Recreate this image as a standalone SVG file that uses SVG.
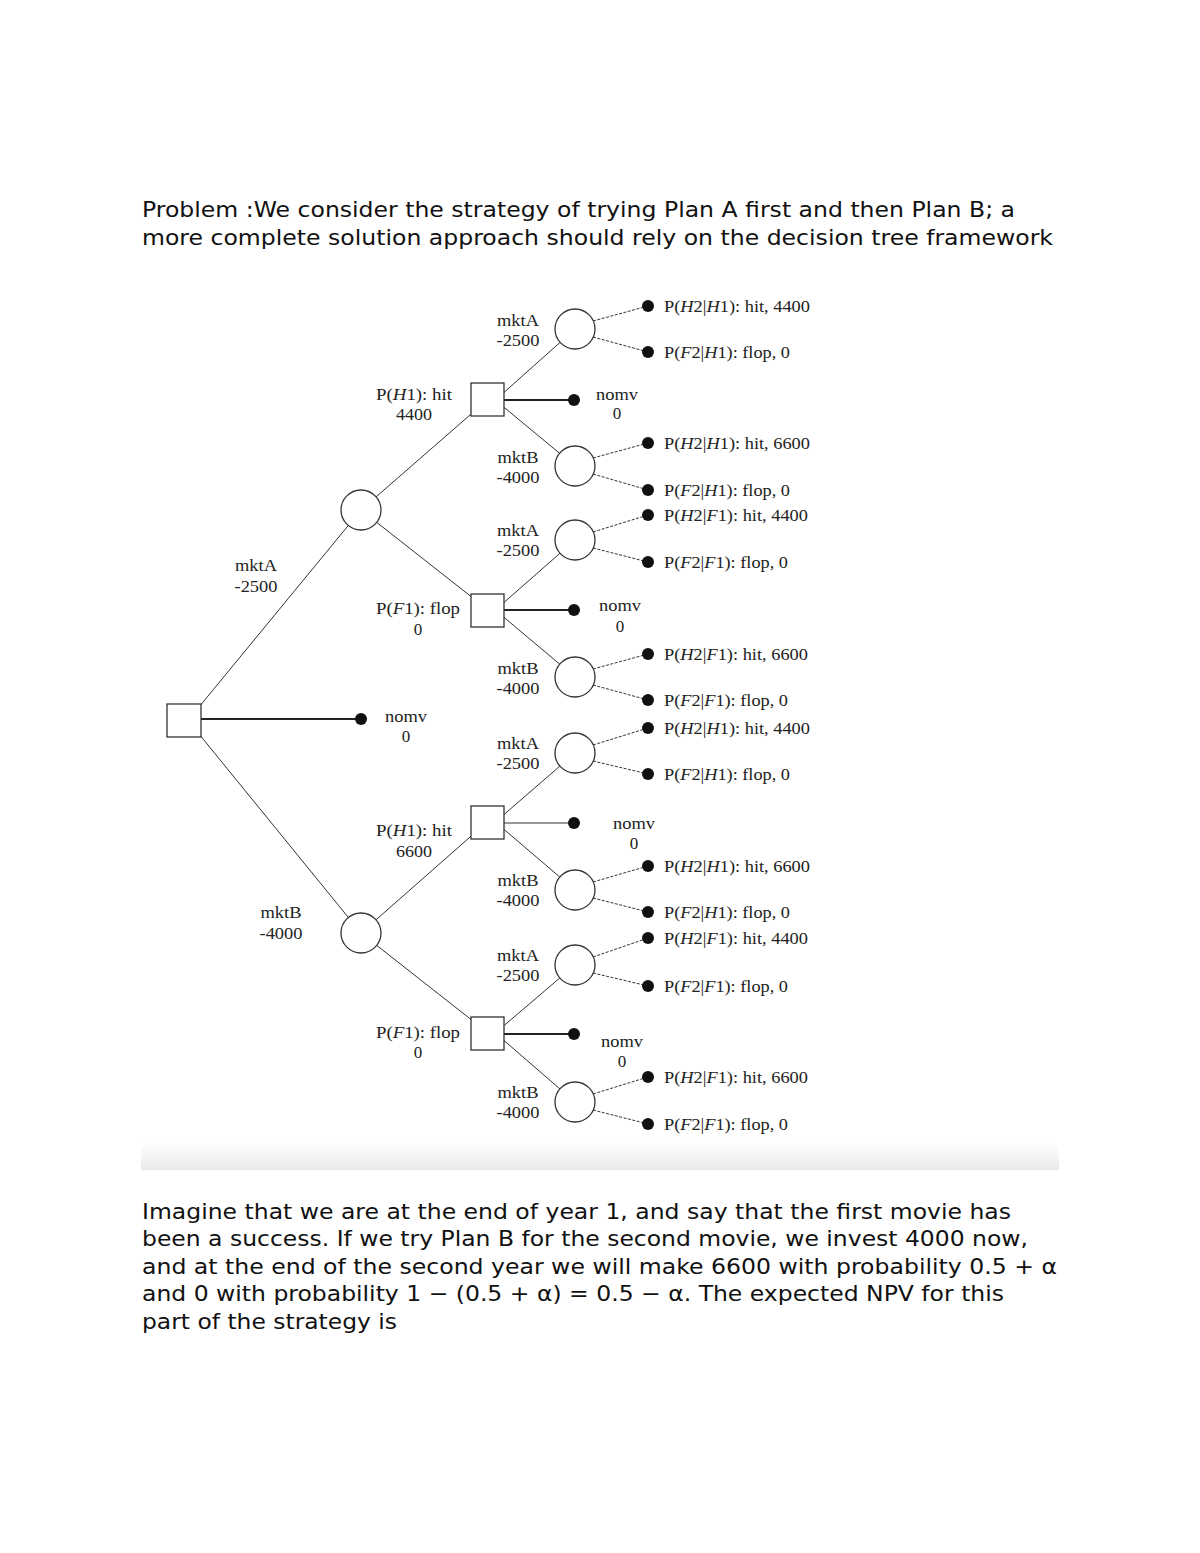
<svg xmlns="http://www.w3.org/2000/svg" width="1200" height="1553" viewBox="0 0 1200 1553">
<defs>
<linearGradient id="fade" x1="0" y1="0" x2="0" y2="1">
<stop offset="0" stop-color="#ffffff"/>
<stop offset="1" stop-color="#e9e9e9"/>
</linearGradient>
<style>
.body{font-family:"DejaVu Sans","Liberation Sans",sans-serif;font-size:22px;fill:#111}
.t{font-family:"Liberation Serif","Times New Roman",serif;font-size:17px;fill:#222}
.c{text-anchor:middle}
.i{font-style:italic}
.ln{stroke:#333;stroke-width:1;fill:none}
.hl{stroke:#222;stroke-width:1.8;fill:none}
.dl{stroke:#333;stroke-width:1;stroke-dasharray:3 1.5;fill:none}
.sq{fill:#fff;stroke:#333;stroke-width:1.3}
.ch{fill:#fff;stroke:#333;stroke-width:1.3}
.dot{fill:#111}
</style>
</defs>
<rect width="1200" height="1553" fill="#fff"/>

<g id="header">
<text class="body" x="142" y="217" textLength="873" lengthAdjust="spacingAndGlyphs">Problem :We consider the strategy of trying Plan A first and then Plan B; a</text>
<text class="body" x="142" y="245" textLength="911" lengthAdjust="spacingAndGlyphs">more complete solution approach should rely on the decision tree framework</text>
</g>

<rect x="141" y="1143" width="918" height="27" fill="url(#fade)"/>

<g id="connectors">
<line class="ln" x1="199" y1="707" x2="361" y2="510"/>
<line class="ln" x1="199" y1="734" x2="361" y2="933"/>
<line class="hl" x1="201" y1="719" x2="361" y2="719"/>
<line class="ln" x1="361" y1="510" x2="478" y2="408"/>
<line class="ln" x1="361" y1="510" x2="478" y2="602"/>
<line class="ln" x1="361" y1="933" x2="478" y2="830"/>
<line class="ln" x1="361" y1="933" x2="478" y2="1025"/>
<line class="ln" x1="500" y1="396" x2="575" y2="329"/>
<line class="hl" x1="504" y1="400" x2="574" y2="400"/>
<line class="ln" x1="500" y1="404" x2="575" y2="466"/>
<line class="ln" x1="500" y1="606" x2="575" y2="540"/>
<line class="hl" x1="504" y1="610" x2="574" y2="610"/>
<line class="ln" x1="500" y1="614" x2="575" y2="677"/>
<line class="ln" x1="500" y1="818" x2="575" y2="753"/>
<line class="ln" x1="504" y1="823" x2="574" y2="823"/>
<line class="ln" x1="500" y1="826" x2="575" y2="890"/>
<line class="ln" x1="500" y1="1029" x2="575" y2="965"/>
<line class="hl" x1="504" y1="1034" x2="574" y2="1034"/>
<line class="ln" x1="500" y1="1037" x2="575" y2="1102"/>
<path class="dl" d="M593,321 L648,306 M593,337 L648,352"/>
<path class="dl" d="M593,458 L648,443 M593,474 L648,490"/>
<path class="dl" d="M593,532 L648,515 M593,548 L648,562"/>
<path class="dl" d="M593,669 L648,654 M593,685 L648,700"/>
<path class="dl" d="M593,745 L648,728 M593,761 L648,774"/>
<path class="dl" d="M593,882 L648,866 M593,898 L648,912"/>
<path class="dl" d="M593,957 L648,938 M593,973 L648,986"/>
<path class="dl" d="M593,1094 L648,1077 M593,1110 L648,1124"/>
</g>

<g id="root"><rect class="sq" x="167" y="704" width="34" height="33"/></g>
<g id="root-nomv"><circle class="dot" cx="361" cy="719" r="6"/>
<text class="t c" x="406" y="722" textLength="42" lengthAdjust="spacingAndGlyphs">nomv</text><text class="t c" x="406" y="742">0</text></g>
<g id="root-labels">
<text class="t c" x="256" y="571" textLength="42" lengthAdjust="spacingAndGlyphs">mktA</text><text class="t c" x="256" y="592" textLength="43" lengthAdjust="spacingAndGlyphs">-2500</text>
<text class="t c" x="281" y="918" textLength="41" lengthAdjust="spacingAndGlyphs">mktB</text><text class="t c" x="281" y="939" textLength="43" lengthAdjust="spacingAndGlyphs">-4000</text>
</g>

<g id="chanceA"><circle class="ch" cx="361" cy="510" r="20"/></g>
<g id="chanceB"><circle class="ch" cx="361" cy="933" r="20"/></g>

<g id="decA-hit"><rect class="sq" x="471" y="383" width="33" height="33"/>
<text class="t c" x="414" y="400" textLength="76" lengthAdjust="spacingAndGlyphs">P(<tspan class="i">H</tspan>1): hit</text><text class="t c" x="414" y="420" textLength="36" lengthAdjust="spacingAndGlyphs">4400</text></g>
<g id="decA-flop"><rect class="sq" x="471" y="594" width="33" height="33"/>
<text class="t c" x="418" y="614" textLength="84" lengthAdjust="spacingAndGlyphs">P(<tspan class="i">F</tspan>1): flop</text><text class="t c" x="418" y="635">0</text></g>
<g id="decB-hit"><rect class="sq" x="471" y="806" width="33" height="33"/>
<text class="t c" x="414" y="836" textLength="76" lengthAdjust="spacingAndGlyphs">P(<tspan class="i">H</tspan>1): hit</text><text class="t c" x="414" y="857" textLength="36" lengthAdjust="spacingAndGlyphs">6600</text></g>
<g id="decB-flop"><rect class="sq" x="471" y="1017" width="33" height="33"/>
<text class="t c" x="418" y="1038" textLength="84" lengthAdjust="spacingAndGlyphs">P(<tspan class="i">F</tspan>1): flop</text><text class="t c" x="418" y="1058">0</text></g>

<g id="nomv1"><circle class="dot" cx="574" cy="400" r="6"/><text class="t c" x="617" y="400" textLength="42" lengthAdjust="spacingAndGlyphs">nomv</text><text class="t c" x="617" y="419">0</text></g>
<g id="nomv2"><circle class="dot" cx="574" cy="610" r="6"/><text class="t c" x="620" y="611" textLength="42" lengthAdjust="spacingAndGlyphs">nomv</text><text class="t c" x="620" y="632">0</text></g>
<g id="nomv3"><circle class="dot" cx="574" cy="823" r="6"/><text class="t c" x="634" y="829" textLength="42" lengthAdjust="spacingAndGlyphs">nomv</text><text class="t c" x="634" y="849">0</text></g>
<g id="nomv4"><circle class="dot" cx="574" cy="1034" r="6"/><text class="t c" x="622" y="1047" textLength="42" lengthAdjust="spacingAndGlyphs">nomv</text><text class="t c" x="622" y="1067">0</text></g>

<g id="c1"><circle class="ch" cx="575" cy="329" r="20"/><text class="t c" x="518" y="326" textLength="42" lengthAdjust="spacingAndGlyphs">mktA</text><text class="t c" x="518" y="346" textLength="43" lengthAdjust="spacingAndGlyphs">-2500</text></g>
<g id="c2"><circle class="ch" cx="575" cy="466" r="20"/><text class="t c" x="518" y="463" textLength="41" lengthAdjust="spacingAndGlyphs">mktB</text><text class="t c" x="518" y="483" textLength="43" lengthAdjust="spacingAndGlyphs">-4000</text></g>
<g id="c3"><circle class="ch" cx="575" cy="540" r="20"/><text class="t c" x="518" y="536" textLength="42" lengthAdjust="spacingAndGlyphs">mktA</text><text class="t c" x="518" y="556" textLength="43" lengthAdjust="spacingAndGlyphs">-2500</text></g>
<g id="c4"><circle class="ch" cx="575" cy="677" r="20"/><text class="t c" x="518" y="674" textLength="41" lengthAdjust="spacingAndGlyphs">mktB</text><text class="t c" x="518" y="694" textLength="43" lengthAdjust="spacingAndGlyphs">-4000</text></g>
<g id="c5"><circle class="ch" cx="575" cy="753" r="20"/><text class="t c" x="518" y="749" textLength="42" lengthAdjust="spacingAndGlyphs">mktA</text><text class="t c" x="518" y="769" textLength="43" lengthAdjust="spacingAndGlyphs">-2500</text></g>
<g id="c6"><circle class="ch" cx="575" cy="890" r="20"/><text class="t c" x="518" y="886" textLength="41" lengthAdjust="spacingAndGlyphs">mktB</text><text class="t c" x="518" y="906" textLength="43" lengthAdjust="spacingAndGlyphs">-4000</text></g>
<g id="c7"><circle class="ch" cx="575" cy="965" r="20"/><text class="t c" x="518" y="961" textLength="42" lengthAdjust="spacingAndGlyphs">mktA</text><text class="t c" x="518" y="981" textLength="43" lengthAdjust="spacingAndGlyphs">-2500</text></g>
<g id="c8"><circle class="ch" cx="575" cy="1102" r="20"/><text class="t c" x="518" y="1098" textLength="41" lengthAdjust="spacingAndGlyphs">mktB</text><text class="t c" x="518" y="1118" textLength="43" lengthAdjust="spacingAndGlyphs">-4000</text></g>

<g id="terminals">
<circle class="dot" cx="648" cy="306" r="6"/><text class="t" x="664" y="312" textLength="146" lengthAdjust="spacingAndGlyphs">P(<tspan class="i">H</tspan>2|<tspan class="i">H</tspan>1): hit, 4400</text>
<circle class="dot" cx="648" cy="352" r="6"/><text class="t" x="664" y="358" textLength="126" lengthAdjust="spacingAndGlyphs">P(<tspan class="i">F</tspan>2|<tspan class="i">H</tspan>1): flop, 0</text>
<circle class="dot" cx="648" cy="443" r="6"/><text class="t" x="664" y="449" textLength="146" lengthAdjust="spacingAndGlyphs">P(<tspan class="i">H</tspan>2|<tspan class="i">H</tspan>1): hit, 6600</text>
<circle class="dot" cx="648" cy="490" r="6"/><text class="t" x="664" y="496" textLength="126" lengthAdjust="spacingAndGlyphs">P(<tspan class="i">F</tspan>2|<tspan class="i">H</tspan>1): flop, 0</text>
<circle class="dot" cx="648" cy="515" r="6"/><text class="t" x="664" y="521" textLength="144" lengthAdjust="spacingAndGlyphs">P(<tspan class="i">H</tspan>2|<tspan class="i">F</tspan>1): hit, 4400</text>
<circle class="dot" cx="648" cy="562" r="6"/><text class="t" x="664" y="568" textLength="124" lengthAdjust="spacingAndGlyphs">P(<tspan class="i">F</tspan>2|<tspan class="i">F</tspan>1): flop, 0</text>
<circle class="dot" cx="648" cy="654" r="6"/><text class="t" x="664" y="660" textLength="144" lengthAdjust="spacingAndGlyphs">P(<tspan class="i">H</tspan>2|<tspan class="i">F</tspan>1): hit, 6600</text>
<circle class="dot" cx="648" cy="700" r="6"/><text class="t" x="664" y="706" textLength="124" lengthAdjust="spacingAndGlyphs">P(<tspan class="i">F</tspan>2|<tspan class="i">F</tspan>1): flop, 0</text>
<circle class="dot" cx="648" cy="728" r="6"/><text class="t" x="664" y="734" textLength="146" lengthAdjust="spacingAndGlyphs">P(<tspan class="i">H</tspan>2|<tspan class="i">H</tspan>1): hit, 4400</text>
<circle class="dot" cx="648" cy="774" r="6"/><text class="t" x="664" y="780" textLength="126" lengthAdjust="spacingAndGlyphs">P(<tspan class="i">F</tspan>2|<tspan class="i">H</tspan>1): flop, 0</text>
<circle class="dot" cx="648" cy="866" r="6"/><text class="t" x="664" y="872" textLength="146" lengthAdjust="spacingAndGlyphs">P(<tspan class="i">H</tspan>2|<tspan class="i">H</tspan>1): hit, 6600</text>
<circle class="dot" cx="648" cy="912" r="6"/><text class="t" x="664" y="918" textLength="126" lengthAdjust="spacingAndGlyphs">P(<tspan class="i">F</tspan>2|<tspan class="i">H</tspan>1): flop, 0</text>
<circle class="dot" cx="648" cy="938" r="6"/><text class="t" x="664" y="944" textLength="144" lengthAdjust="spacingAndGlyphs">P(<tspan class="i">H</tspan>2|<tspan class="i">F</tspan>1): hit, 4400</text>
<circle class="dot" cx="648" cy="986" r="6"/><text class="t" x="664" y="992" textLength="124" lengthAdjust="spacingAndGlyphs">P(<tspan class="i">F</tspan>2|<tspan class="i">F</tspan>1): flop, 0</text>
<circle class="dot" cx="648" cy="1077" r="6"/><text class="t" x="664" y="1083" textLength="144" lengthAdjust="spacingAndGlyphs">P(<tspan class="i">H</tspan>2|<tspan class="i">F</tspan>1): hit, 6600</text>
<circle class="dot" cx="648" cy="1124" r="6"/><text class="t" x="664" y="1130" textLength="124" lengthAdjust="spacingAndGlyphs">P(<tspan class="i">F</tspan>2|<tspan class="i">F</tspan>1): flop, 0</text>
</g>

<g id="bodytext">
<text class="body" x="142" y="1219" textLength="869" lengthAdjust="spacingAndGlyphs">Imagine that we are at the end of year 1, and say that the first movie has</text>
<text class="body" x="142" y="1246" textLength="886" lengthAdjust="spacingAndGlyphs">been a success. If we try Plan B for the second movie, we invest 4000 now,</text>
<text class="body" x="142" y="1274" textLength="915" lengthAdjust="spacingAndGlyphs">and at the end of the second year we will make 6600 with probability 0.5 + α</text>
<text class="body" x="142" y="1301" textLength="862" lengthAdjust="spacingAndGlyphs">and 0 with probability 1 − (0.5 + α) = 0.5 − α. The expected NPV for this</text>
<text class="body" x="142" y="1329" textLength="255" lengthAdjust="spacingAndGlyphs">part of the strategy is</text>
</g>
</svg>
